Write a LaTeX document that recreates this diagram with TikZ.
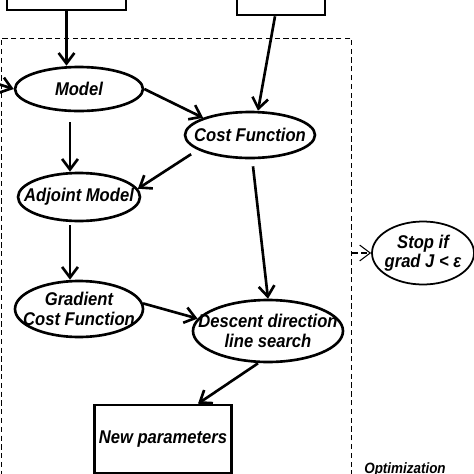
\documentclass[tikz,border=0pt]{standalone}
\usepackage{fontspec}
\setmainfont{Liberation Sans}[FakeStretch=0.9]
\usetikzlibrary{shapes.geometric,arrows.meta,positioning}

\begin{document}
\begin{tikzpicture}[x=0.02cm,y=-0.02cm,line width=1.5pt,
  font=\fontsize{10.5}{11}\selectfont\bfseries\itshape,
  ell/.style={draw,ellipse,inner xsep=-1.2cm,inner ysep=-0.5cm,align=center},
  box/.style={draw,rectangle,inner sep=0pt,align=center},
  arr/.style={-{Straight Barb[length=6pt,width=9pt]}},
  optframe/.style={draw,dashed,line width=0.6pt,dash pattern=on 3pt off 2pt}]

 \useasboundingbox (0,0) rectangle (474,474);

 % boxes at the top (cut by the frame of the picture)
 \node[box,minimum width=2.38cm,minimum height=0.76cm] (param) at (66.5,-9) {Parameters};
 \node[box,minimum width=1.76cm,minimum height=0.8cm] (obs) at (281,-5) {};

 % optimization loop
 \node[optframe,minimum width=7.02cm,minimum height=9.64cm] (optbox) at (176.5,279) {};
 \node[font=\fontsize{8.5}{9}\selectfont\bfseries\itshape] (optlabel) at (405,470) {Optimization};

 \node[ell,minimum width=2.56cm,minimum height=0.88cm] (model) at (79,89) {Model};
 \node[ell,minimum width=2.6cm,minimum height=0.92cm] (cost) at (250,135) {Cost Function};
 \node[ell,minimum width=2.44cm,minimum height=0.96cm] (adjoint) at (79,197) {Adjoint Model};
 \node[ell,minimum width=2.56cm,minimum height=1.12cm] (grad) at (79,309) {Gradient\\Cost Function};
 \node[ell,minimum width=3.0cm,minimum height=1.24cm] (descent) at (268,331) {Descent direction\\line search};
 \node[box,minimum width=2.74cm,minimum height=1.36cm] (newpar) at (163,439) {New parameters};

 \node[ell,line width=1pt,minimum width=2.04cm,minimum height=1.26cm] (stop) at (423,253) {Stop if\\grad J < ε};

 \coordinate (loopin) at (-2,84);

 % draw arrows
 \draw[arr] (param.south) -- (param.south |- model.north);
 \draw[arr] ([xshift=-0.12cm]obs.south) -- ([xshift=0.16cm]cost.north);
 \draw[arr] (loopin) -- (model.west);
 \draw[arr] (model.east) -- (cost.north west);
 \draw[arr] ([xshift=-0.18cm,yshift=-0.2cm]model.south) -- ([xshift=-0.18cm]adjoint.north);
 \draw[arr] ([xshift=-0.24cm,yshift=-0.04cm]cost.south west) -- (adjoint.8);
 \draw[arr] ([xshift=0.06cm,yshift=-0.14cm]cost.south) -- (descent.north);
 \draw[arr] ([xshift=-0.18cm,yshift=-0.06cm]adjoint.south) -- ([xshift=-0.18cm]grad.north);
 \draw[arr] (grad.5) -- (descent.170);
 \draw[arr] ([xshift=-0.2cm]descent.south) -- ([xshift=0.7cm]newpar.north);
 \draw[arr,optframe] (optbox.east |- stop.west) -- (stop.west);

\end{tikzpicture}
\end{document}
